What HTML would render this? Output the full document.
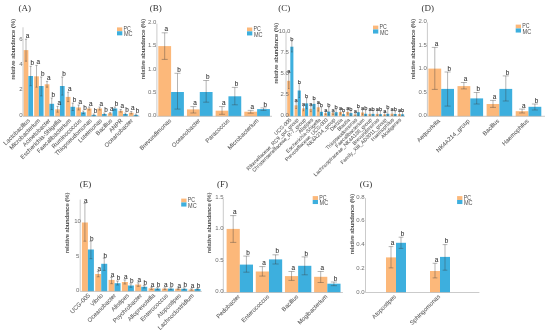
<!DOCTYPE html>
<html><head><meta charset="utf-8"><style>
html,body{margin:0;padding:0;background:#fff;overflow:hidden;}
svg{display:block;will-change:transform;}
</style></head><body>
<svg width="550" height="332" viewBox="0 0 550 332" font-family="Liberation Sans, sans-serif">
<rect width="550" height="332" fill="#fff"/>
<text x="18.4" y="11.0" font-family="Liberation Serif, serif" font-size="9.0" fill="#333">(A)</text>
<text transform="translate(15.0,49.2) rotate(-90)" text-anchor="middle" font-size="5.9" fill="#3c3c3c" stroke="#3c3c3c" stroke-width="0.08">relative abundance (%)</text>
<rect x="23.65" y="50.10" width="4.70" height="66.20" fill="#FCB87A"/>
<rect x="28.35" y="76.00" width="4.70" height="40.30" fill="#3DAFDE"/>
<rect x="34.17" y="76.30" width="4.70" height="40.00" fill="#FCB87A"/>
<rect x="38.88" y="86.00" width="4.70" height="30.30" fill="#3DAFDE"/>
<rect x="44.70" y="84.30" width="4.70" height="32.00" fill="#FCB87A"/>
<rect x="49.40" y="103.80" width="4.70" height="12.50" fill="#3DAFDE"/>
<rect x="55.23" y="109.30" width="4.70" height="7.00" fill="#FCB87A"/>
<rect x="59.93" y="86.00" width="4.70" height="30.30" fill="#3DAFDE"/>
<rect x="65.75" y="96.90" width="4.70" height="19.40" fill="#FCB87A"/>
<rect x="70.45" y="106.80" width="4.70" height="9.50" fill="#3DAFDE"/>
<rect x="76.28" y="107.50" width="4.70" height="8.80" fill="#FCB87A"/>
<rect x="80.98" y="112.30" width="4.70" height="4.00" fill="#3DAFDE"/>
<rect x="86.80" y="108.50" width="4.70" height="7.80" fill="#FCB87A"/>
<rect x="91.50" y="114.90" width="4.70" height="1.40" fill="#3DAFDE"/>
<rect x="97.32" y="108.50" width="4.70" height="7.80" fill="#FCB87A"/>
<rect x="102.02" y="114.00" width="4.70" height="2.30" fill="#3DAFDE"/>
<rect x="107.85" y="113.30" width="4.70" height="3.00" fill="#FCB87A"/>
<rect x="112.55" y="108.50" width="4.70" height="7.80" fill="#3DAFDE"/>
<rect x="118.38" y="110.80" width="4.70" height="5.50" fill="#FCB87A"/>
<rect x="123.08" y="114.00" width="4.70" height="2.30" fill="#3DAFDE"/>
<rect x="128.90" y="112.70" width="4.70" height="3.60" fill="#FCB87A"/>
<rect x="133.60" y="114.90" width="4.70" height="1.40" fill="#3DAFDE"/>
<path d="M26.00 39.20V61.20M24.90 39.20H27.10M24.90 61.20H27.10" stroke="#3A3A3A" stroke-width="0.75" fill="none" opacity="0.5"/>
<text x="27.65" y="37.80" text-anchor="middle" font-size="6.4" fill="#333333" stroke="#333333" stroke-width="0.08">a</text>
<path d="M30.70 66.30V85.70M29.60 66.30H31.80M29.60 85.70H31.80" stroke="#3A3A3A" stroke-width="0.75" fill="none" opacity="0.5"/>
<text x="32.35" y="64.90" text-anchor="middle" font-size="6.4" fill="#333333" stroke="#333333" stroke-width="0.08">b</text>
<path d="M36.52 65.40V87.20M35.42 65.40H37.63M35.42 87.20H37.63" stroke="#3A3A3A" stroke-width="0.75" fill="none" opacity="0.5"/>
<text x="38.17" y="64.00" text-anchor="middle" font-size="6.4" fill="#333333" stroke="#333333" stroke-width="0.08">a</text>
<path d="M41.23 77.00V95.90M40.12 77.00H42.33M40.12 95.90H42.33" stroke="#3A3A3A" stroke-width="0.75" fill="none" opacity="0.5"/>
<text x="42.88" y="75.60" text-anchor="middle" font-size="6.4" fill="#333333" stroke="#333333" stroke-width="0.08">b</text>
<path d="M47.05 81.40V87.20M45.95 81.40H48.15M45.95 87.20H48.15" stroke="#3A3A3A" stroke-width="0.75" fill="none" opacity="0.5"/>
<text x="48.70" y="80.00" text-anchor="middle" font-size="6.4" fill="#333333" stroke="#333333" stroke-width="0.08">a</text>
<path d="M51.75 98.00V109.60M50.65 98.00H52.85M50.65 109.60H52.85" stroke="#3A3A3A" stroke-width="0.75" fill="none" opacity="0.5"/>
<text x="53.40" y="96.60" text-anchor="middle" font-size="6.4" fill="#333333" stroke="#333333" stroke-width="0.08">b</text>
<path d="M57.58 106.40V112.20M56.47 106.40H58.68M56.47 112.20H58.68" stroke="#3A3A3A" stroke-width="0.75" fill="none" opacity="0.5"/>
<text x="59.23" y="105.00" text-anchor="middle" font-size="6.4" fill="#333333" stroke="#333333" stroke-width="0.08">a</text>
<path d="M62.28 77.00V95.10M61.17 77.00H63.38M61.17 95.10H63.38" stroke="#3A3A3A" stroke-width="0.75" fill="none" opacity="0.5"/>
<text x="63.93" y="75.60" text-anchor="middle" font-size="6.4" fill="#333333" stroke="#333333" stroke-width="0.08">b</text>
<path d="M68.10 92.20V101.60M67.00 92.20H69.20M67.00 101.60H69.20" stroke="#3A3A3A" stroke-width="0.75" fill="none" opacity="0.5"/>
<text x="69.75" y="90.80" text-anchor="middle" font-size="6.4" fill="#333333" stroke="#333333" stroke-width="0.08">a</text>
<path d="M72.80 103.10V110.50M71.70 103.10H73.90M71.70 110.50H73.90" stroke="#3A3A3A" stroke-width="0.75" fill="none" opacity="0.5"/>
<text x="74.45" y="101.70" text-anchor="middle" font-size="6.4" fill="#333333" stroke="#333333" stroke-width="0.08">b</text>
<path d="M78.62 105.00V110.00M77.52 105.00H79.73M77.52 110.00H79.73" stroke="#3A3A3A" stroke-width="0.75" fill="none" opacity="0.5"/>
<text x="80.28" y="103.60" text-anchor="middle" font-size="6.4" fill="#333333" stroke="#333333" stroke-width="0.08">a</text>
<path d="M83.33 111.00V113.60M82.22 111.00H84.43M82.22 113.60H84.43" stroke="#3A3A3A" stroke-width="0.75" fill="none" opacity="0.5"/>
<text x="84.98" y="109.60" text-anchor="middle" font-size="6.4" fill="#333333" stroke="#333333" stroke-width="0.08">b</text>
<path d="M89.15 107.00V110.00M88.05 107.00H90.25M88.05 110.00H90.25" stroke="#3A3A3A" stroke-width="0.75" fill="none" opacity="0.5"/>
<text x="90.80" y="105.60" text-anchor="middle" font-size="6.4" fill="#333333" stroke="#333333" stroke-width="0.08">a</text>
<path d="M93.85 114.00V115.80M92.75 114.00H94.95M92.75 115.80H94.95" stroke="#3A3A3A" stroke-width="0.75" fill="none" opacity="0.5"/>
<text x="95.50" y="112.60" text-anchor="middle" font-size="6.4" fill="#333333" stroke="#333333" stroke-width="0.08">b</text>
<path d="M99.67 107.00V110.00M98.57 107.00H100.78M98.57 110.00H100.78" stroke="#3A3A3A" stroke-width="0.75" fill="none" opacity="0.5"/>
<text x="101.32" y="105.60" text-anchor="middle" font-size="6.4" fill="#333333" stroke="#333333" stroke-width="0.08">a</text>
<path d="M104.37 113.00V115.00M103.27 113.00H105.48M103.27 115.00H105.48" stroke="#3A3A3A" stroke-width="0.75" fill="none" opacity="0.5"/>
<text x="106.02" y="111.60" text-anchor="middle" font-size="6.4" fill="#333333" stroke="#333333" stroke-width="0.08">b</text>
<path d="M110.20 112.50V114.10M109.10 112.50H111.30M109.10 114.10H111.30" stroke="#3A3A3A" stroke-width="0.75" fill="none" opacity="0.5"/>
<text x="111.85" y="111.10" text-anchor="middle" font-size="6.4" fill="#333333" stroke="#333333" stroke-width="0.08">a</text>
<path d="M114.90 107.00V110.00M113.80 107.00H116.00M113.80 110.00H116.00" stroke="#3A3A3A" stroke-width="0.75" fill="none" opacity="0.5"/>
<text x="116.55" y="105.60" text-anchor="middle" font-size="6.4" fill="#333333" stroke="#333333" stroke-width="0.08">b</text>
<path d="M120.72 109.50V112.10M119.62 109.50H121.83M119.62 112.10H121.83" stroke="#3A3A3A" stroke-width="0.75" fill="none" opacity="0.5"/>
<text x="122.38" y="108.10" text-anchor="middle" font-size="6.4" fill="#333333" stroke="#333333" stroke-width="0.08">a</text>
<path d="M125.42 113.00V115.00M124.32 113.00H126.53M124.32 115.00H126.53" stroke="#3A3A3A" stroke-width="0.75" fill="none" opacity="0.5"/>
<text x="127.08" y="111.60" text-anchor="middle" font-size="6.4" fill="#333333" stroke="#333333" stroke-width="0.08">b</text>
<path d="M131.25 111.50V113.90M130.15 111.50H132.35M130.15 113.90H132.35" stroke="#3A3A3A" stroke-width="0.75" fill="none" opacity="0.5"/>
<text x="132.90" y="110.10" text-anchor="middle" font-size="6.4" fill="#333333" stroke="#333333" stroke-width="0.08">a</text>
<path d="M135.95 114.00V115.80M134.85 114.00H137.05M134.85 115.80H137.05" stroke="#3A3A3A" stroke-width="0.75" fill="none" opacity="0.5"/>
<text x="137.60" y="112.60" text-anchor="middle" font-size="6.4" fill="#333333" stroke="#333333" stroke-width="0.08">b</text>
<path d="M23.0 27.3V116.3H139.5" stroke="#B4B4B4" stroke-width="0.7" fill="none"/>
<text x="20.9" y="116.66" text-anchor="middle" font-size="6.0" fill="#6E6E6E">0</text>
<text x="20.9" y="91.36" text-anchor="middle" font-size="6.0" fill="#6E6E6E">2</text>
<text x="20.9" y="66.06" text-anchor="middle" font-size="6.0" fill="#6E6E6E">4</text>
<text x="20.9" y="40.86" text-anchor="middle" font-size="6.0" fill="#6E6E6E">6</text>
<text transform="translate(30.35,121.00) rotate(-45)" text-anchor="end" font-size="6.0" fill="#5c5c5c" stroke="#5c5c5c" stroke-width="0.06">Lactobacillus</text>
<text transform="translate(40.65,121.00) rotate(-45)" text-anchor="end" font-size="6.0" fill="#5c5c5c" stroke="#5c5c5c" stroke-width="0.06">Microbacterium</text>
<text transform="translate(50.95,121.00) rotate(-45)" text-anchor="end" font-size="6.0" fill="#5c5c5c" stroke="#5c5c5c" stroke-width="0.06">Acinetobacter</text>
<text transform="translate(61.25,121.00) rotate(-45)" text-anchor="end" font-size="6.0" fill="#5c5c5c" stroke="#5c5c5c" stroke-width="0.06">Escherichia-Shigella</text>
<text transform="translate(71.55,121.00) rotate(-45)" text-anchor="end" font-size="6.0" fill="#5c5c5c" stroke="#5c5c5c" stroke-width="0.06">Faecalibacterium</text>
<text transform="translate(81.85,121.00) rotate(-45)" text-anchor="end" font-size="6.0" fill="#5c5c5c" stroke="#5c5c5c" stroke-width="0.06">Ruminococcus</text>
<text transform="translate(92.15,121.00) rotate(-45)" text-anchor="end" font-size="6.0" fill="#5c5c5c" stroke="#5c5c5c" stroke-width="0.06">Thiopseudomonas</text>
<text transform="translate(102.45,121.00) rotate(-45)" text-anchor="end" font-size="6.0" fill="#5c5c5c" stroke="#5c5c5c" stroke-width="0.06">Luteimonas</text>
<text transform="translate(112.75,121.00) rotate(-45)" text-anchor="end" font-size="6.0" fill="#5c5c5c" stroke="#5c5c5c" stroke-width="0.06">Bacillus</text>
<text transform="translate(123.05,121.00) rotate(-45)" text-anchor="end" font-size="6.0" fill="#5c5c5c" stroke="#5c5c5c" stroke-width="0.06">ANPR</text>
<text transform="translate(133.35,121.00) rotate(-45)" text-anchor="end" font-size="6.0" fill="#5c5c5c" stroke="#5c5c5c" stroke-width="0.06">Oceanobacter</text>
<rect x="117" y="27.40" width="5.3" height="3.85" fill="#FCB87A"/>
<rect x="117" y="31.25" width="5.3" height="4.1" fill="#3DAFDE"/>
<text x="123.60" y="31.20" font-size="6.4" fill="#4a4a4a" textLength="7.3" lengthAdjust="spacingAndGlyphs">PC</text>
<text x="123.90" y="36.40" font-size="6.4" fill="#4a4a4a" textLength="8.6" lengthAdjust="spacingAndGlyphs">MC</text>
<text x="149.8" y="11.0" font-family="Liberation Serif, serif" font-size="9.0" fill="#333">(B)</text>
<text transform="translate(144.8,49.0) rotate(-90)" text-anchor="middle" font-size="5.9" fill="#3c3c3c" stroke="#3c3c3c" stroke-width="0.08">relative abundance (%)</text>
<rect x="158.30" y="46.10" width="12.80" height="70.20" fill="#FCB87A"/>
<rect x="171.10" y="92.00" width="12.80" height="24.30" fill="#3DAFDE"/>
<rect x="186.97" y="109.40" width="12.80" height="6.90" fill="#FCB87A"/>
<rect x="199.77" y="92.00" width="12.80" height="24.30" fill="#3DAFDE"/>
<rect x="215.64" y="110.70" width="12.80" height="5.60" fill="#FCB87A"/>
<rect x="228.44" y="96.30" width="12.80" height="20.00" fill="#3DAFDE"/>
<rect x="244.31" y="111.70" width="12.80" height="4.60" fill="#FCB87A"/>
<rect x="257.11" y="109.10" width="12.80" height="7.20" fill="#3DAFDE"/>
<path d="M164.70 32.80V59.40M161.69 32.80H167.71M161.69 59.40H167.71" stroke="#3A3A3A" stroke-width="0.75" fill="none" opacity="0.5"/>
<text x="166.35" y="31.40" text-anchor="middle" font-size="6.4" fill="#333333" stroke="#333333" stroke-width="0.08">a</text>
<path d="M177.50 73.30V109.10M174.49 73.30H180.51M174.49 109.10H180.51" stroke="#3A3A3A" stroke-width="0.75" fill="none" opacity="0.5"/>
<text x="179.15" y="71.90" text-anchor="middle" font-size="6.4" fill="#333333" stroke="#333333" stroke-width="0.08">b</text>
<path d="M193.37 106.60V113.00M190.36 106.60H196.38M190.36 113.00H196.38" stroke="#3A3A3A" stroke-width="0.75" fill="none" opacity="0.5"/>
<text x="195.02" y="105.20" text-anchor="middle" font-size="6.4" fill="#333333" stroke="#333333" stroke-width="0.08">a</text>
<path d="M206.17 80.50V102.20M203.16 80.50H209.18M203.16 102.20H209.18" stroke="#3A3A3A" stroke-width="0.75" fill="none" opacity="0.5"/>
<text x="207.82" y="79.10" text-anchor="middle" font-size="6.4" fill="#333333" stroke="#333333" stroke-width="0.08">b</text>
<path d="M222.04 106.60V114.30M219.03 106.60H225.05M219.03 114.30H225.05" stroke="#3A3A3A" stroke-width="0.75" fill="none" opacity="0.5"/>
<text x="223.69" y="105.20" text-anchor="middle" font-size="6.4" fill="#333333" stroke="#333333" stroke-width="0.08">a</text>
<path d="M234.84 87.40V104.80M231.83 87.40H237.85M231.83 104.80H237.85" stroke="#3A3A3A" stroke-width="0.75" fill="none" opacity="0.5"/>
<text x="236.49" y="86.00" text-anchor="middle" font-size="6.4" fill="#333333" stroke="#333333" stroke-width="0.08">b</text>
<path d="M250.71 110.40V113.20M247.70 110.40H253.72M247.70 113.20H253.72" stroke="#3A3A3A" stroke-width="0.75" fill="none" opacity="0.5"/>
<text x="252.36" y="109.00" text-anchor="middle" font-size="6.4" fill="#333333" stroke="#333333" stroke-width="0.08">a</text>
<path d="M263.51 107.90V110.40M260.50 107.90H266.52M260.50 110.40H266.52" stroke="#3A3A3A" stroke-width="0.75" fill="none" opacity="0.5"/>
<text x="265.16" y="106.50" text-anchor="middle" font-size="6.4" fill="#333333" stroke="#333333" stroke-width="0.08">b</text>
<path d="M156.9 23.6V116.3H272" stroke="#B4B4B4" stroke-width="0.7" fill="none"/>
<text x="152.1" y="23.96" text-anchor="middle" font-size="6.0" fill="#6E6E6E">2.0</text>
<text x="152.1" y="47.46" text-anchor="middle" font-size="6.0" fill="#6E6E6E">1.5</text>
<text x="152.1" y="70.56" text-anchor="middle" font-size="6.0" fill="#6E6E6E">1.0</text>
<text x="152.1" y="94.16" text-anchor="middle" font-size="6.0" fill="#6E6E6E">0.5</text>
<text x="152.1" y="117.16" text-anchor="middle" font-size="6.0" fill="#6E6E6E">0.0</text>
<text transform="translate(171.60,121.00) rotate(-45)" text-anchor="end" font-size="6.0" fill="#5c5c5c" stroke="#5c5c5c" stroke-width="0.06">Brevundimonas</text>
<text transform="translate(200.75,121.00) rotate(-45)" text-anchor="end" font-size="6.0" fill="#5c5c5c" stroke="#5c5c5c" stroke-width="0.06">Oceanobacter</text>
<text transform="translate(229.90,121.00) rotate(-45)" text-anchor="end" font-size="6.0" fill="#5c5c5c" stroke="#5c5c5c" stroke-width="0.06">Paracoccus</text>
<text transform="translate(259.05,121.00) rotate(-45)" text-anchor="end" font-size="6.0" fill="#5c5c5c" stroke="#5c5c5c" stroke-width="0.06">Microbacterium</text>
<rect x="247" y="27.50" width="5.3" height="3.85" fill="#FCB87A"/>
<rect x="247" y="31.35" width="5.3" height="4.1" fill="#3DAFDE"/>
<text x="253.60" y="31.30" font-size="6.4" fill="#4a4a4a" textLength="7.3" lengthAdjust="spacingAndGlyphs">PC</text>
<text x="253.90" y="36.50" font-size="6.4" fill="#4a4a4a" textLength="8.6" lengthAdjust="spacingAndGlyphs">MC</text>
<text x="278.2" y="11.0" font-family="Liberation Serif, serif" font-size="9.0" fill="#333">(C)</text>
<text transform="translate(277.5,53.2) rotate(-90)" text-anchor="middle" font-size="5.9" fill="#3c3c3c" stroke="#3c3c3c" stroke-width="0.08">relative abundance (%)</text>
<rect x="287.20" y="80.80" width="3.10" height="35.50" fill="#FCB87A"/>
<rect x="290.30" y="46.70" width="3.10" height="69.60" fill="#3DAFDE"/>
<rect x="294.58" y="105.30" width="3.10" height="11.00" fill="#FCB87A"/>
<rect x="297.68" y="90.50" width="3.10" height="25.80" fill="#3DAFDE"/>
<rect x="301.96" y="108.40" width="3.10" height="7.90" fill="#FCB87A"/>
<rect x="305.06" y="103.40" width="3.10" height="12.90" fill="#3DAFDE"/>
<rect x="309.34" y="108.80" width="3.10" height="7.50" fill="#FCB87A"/>
<rect x="312.44" y="103.90" width="3.10" height="12.40" fill="#3DAFDE"/>
<rect x="316.72" y="107.30" width="3.10" height="9.00" fill="#FCB87A"/>
<rect x="319.82" y="111.80" width="3.10" height="4.50" fill="#3DAFDE"/>
<rect x="324.10" y="113.10" width="3.10" height="3.20" fill="#FCB87A"/>
<rect x="327.20" y="111.60" width="3.10" height="4.70" fill="#3DAFDE"/>
<rect x="331.48" y="112.60" width="3.10" height="3.70" fill="#FCB87A"/>
<rect x="334.58" y="112.20" width="3.10" height="4.10" fill="#3DAFDE"/>
<rect x="338.86" y="111.90" width="3.10" height="4.40" fill="#FCB87A"/>
<rect x="341.96" y="114.20" width="3.10" height="2.10" fill="#3DAFDE"/>
<rect x="346.24" y="111.90" width="3.10" height="4.40" fill="#FCB87A"/>
<rect x="349.34" y="113.10" width="3.10" height="3.20" fill="#3DAFDE"/>
<rect x="353.62" y="114.40" width="3.10" height="1.90" fill="#FCB87A"/>
<rect x="356.72" y="112.20" width="3.10" height="4.10" fill="#3DAFDE"/>
<rect x="361.00" y="112.50" width="3.10" height="3.80" fill="#FCB87A"/>
<rect x="364.10" y="113.80" width="3.10" height="2.50" fill="#3DAFDE"/>
<rect x="368.38" y="113.90" width="3.10" height="2.40" fill="#FCB87A"/>
<rect x="371.48" y="113.90" width="3.10" height="2.40" fill="#3DAFDE"/>
<rect x="375.76" y="113.90" width="3.10" height="2.40" fill="#FCB87A"/>
<rect x="378.86" y="114.20" width="3.10" height="2.10" fill="#3DAFDE"/>
<rect x="383.14" y="114.30" width="3.10" height="2.00" fill="#FCB87A"/>
<rect x="386.24" y="113.80" width="3.10" height="2.50" fill="#3DAFDE"/>
<rect x="390.52" y="113.70" width="3.10" height="2.60" fill="#FCB87A"/>
<rect x="393.62" y="114.00" width="3.10" height="2.30" fill="#3DAFDE"/>
<rect x="397.90" y="114.00" width="3.10" height="2.30" fill="#FCB87A"/>
<rect x="401.00" y="114.30" width="3.10" height="2.00" fill="#3DAFDE"/>
<path d="M288.75 73.00V88.60M288.02 73.00H289.48M288.02 88.60H289.48" stroke="#3A3A3A" stroke-width="0.75" fill="none" opacity="0.5"/>
<text x="288.85" y="73.00" text-anchor="middle" font-size="5.8" fill="#333333" stroke="#333333" stroke-width="0.1">a</text>
<path d="M291.85 41.00V52.00M291.12 41.00H292.58M291.12 52.00H292.58" stroke="#3A3A3A" stroke-width="0.75" fill="none" opacity="0.5"/>
<text x="291.95" y="41.00" text-anchor="middle" font-size="5.8" fill="#333333" stroke="#333333" stroke-width="0.1">b</text>
<path d="M296.13 102.00V108.50M295.40 102.00H296.86M295.40 108.50H296.86" stroke="#3A3A3A" stroke-width="0.75" fill="none" opacity="0.5"/>
<text x="296.23" y="102.00" text-anchor="middle" font-size="5.8" fill="#333333" stroke="#333333" stroke-width="0.1">a</text>
<path d="M299.23 83.50V97.50M298.50 83.50H299.96M298.50 97.50H299.96" stroke="#3A3A3A" stroke-width="0.75" fill="none" opacity="0.5"/>
<text x="299.33" y="83.50" text-anchor="middle" font-size="5.8" fill="#333333" stroke="#333333" stroke-width="0.1">b</text>
<path d="M303.51 106.00V110.80M302.78 106.00H304.24M302.78 110.80H304.24" stroke="#3A3A3A" stroke-width="0.75" fill="none" opacity="0.5"/>
<text x="303.61" y="106.00" text-anchor="middle" font-size="5.8" fill="#333333" stroke="#333333" stroke-width="0.1">a</text>
<path d="M306.61 98.00V108.80M305.88 98.00H307.34M305.88 108.80H307.34" stroke="#3A3A3A" stroke-width="0.75" fill="none" opacity="0.5"/>
<text x="306.71" y="98.00" text-anchor="middle" font-size="5.8" fill="#333333" stroke="#333333" stroke-width="0.1">b</text>
<path d="M310.89 106.00V111.60M310.16 106.00H311.62M310.16 111.60H311.62" stroke="#3A3A3A" stroke-width="0.75" fill="none" opacity="0.5"/>
<text x="310.99" y="106.00" text-anchor="middle" font-size="5.8" fill="#333333" stroke="#333333" stroke-width="0.1">a</text>
<path d="M313.99 99.50V108.30M313.26 99.50H314.72M313.26 108.30H314.72" stroke="#3A3A3A" stroke-width="0.75" fill="none" opacity="0.5"/>
<text x="314.09" y="99.50" text-anchor="middle" font-size="5.8" fill="#333333" stroke="#333333" stroke-width="0.1">b</text>
<path d="M318.27 103.50V111.10M317.54 103.50H319.00M317.54 111.10H319.00" stroke="#3A3A3A" stroke-width="0.75" fill="none" opacity="0.5"/>
<text x="318.37" y="103.50" text-anchor="middle" font-size="5.8" fill="#333333" stroke="#333333" stroke-width="0.1">a</text>
<path d="M321.37 107.30V115.00M320.64 107.30H322.10M320.64 115.00H322.10" stroke="#3A3A3A" stroke-width="0.75" fill="none" opacity="0.5"/>
<text x="321.47" y="107.30" text-anchor="middle" font-size="5.8" fill="#333333" stroke="#333333" stroke-width="0.1">b</text>
<path d="M325.65 111.50V114.70M324.92 111.50H326.38M324.92 114.70H326.38" stroke="#3A3A3A" stroke-width="0.75" fill="none" opacity="0.5"/>
<text x="325.75" y="111.50" text-anchor="middle" font-size="5.8" fill="#333333" stroke="#333333" stroke-width="0.1">a</text>
<path d="M328.75 107.30V115.00M328.02 107.30H329.48M328.02 115.00H329.48" stroke="#3A3A3A" stroke-width="0.75" fill="none" opacity="0.5"/>
<text x="328.85" y="107.30" text-anchor="middle" font-size="5.8" fill="#333333" stroke="#333333" stroke-width="0.1">b</text>
<path d="M333.03 112.30V114.50M332.30 112.30H333.76M332.30 114.50H333.76" stroke="#3A3A3A" stroke-width="0.75" fill="none" opacity="0.5"/>
<text x="333.13" y="112.30" text-anchor="middle" font-size="5.8" fill="#333333" stroke="#333333" stroke-width="0.1">a</text>
<path d="M336.13 109.00V115.00M335.40 109.00H336.86M335.40 115.00H336.86" stroke="#3A3A3A" stroke-width="0.75" fill="none" opacity="0.5"/>
<text x="336.23" y="109.00" text-anchor="middle" font-size="5.8" fill="#333333" stroke="#333333" stroke-width="0.1">b</text>
<path d="M340.41 109.60V114.20M339.68 109.60H341.14M339.68 114.20H341.14" stroke="#3A3A3A" stroke-width="0.75" fill="none" opacity="0.5"/>
<text x="340.51" y="109.60" text-anchor="middle" font-size="5.8" fill="#333333" stroke="#333333" stroke-width="0.1">a</text>
<path d="M343.51 112.00V115.50M342.78 112.00H344.24M342.78 115.50H344.24" stroke="#3A3A3A" stroke-width="0.75" fill="none" opacity="0.5"/>
<text x="343.61" y="112.00" text-anchor="middle" font-size="5.8" fill="#333333" stroke="#333333" stroke-width="0.1">b</text>
<path d="M347.79 109.60V114.20M347.06 109.60H348.52M347.06 114.20H348.52" stroke="#3A3A3A" stroke-width="0.75" fill="none" opacity="0.5"/>
<text x="347.89" y="109.60" text-anchor="middle" font-size="5.8" fill="#333333" stroke="#333333" stroke-width="0.1">a</text>
<path d="M350.89 110.50V115.50M350.16 110.50H351.62M350.16 115.50H351.62" stroke="#3A3A3A" stroke-width="0.75" fill="none" opacity="0.5"/>
<text x="350.99" y="110.50" text-anchor="middle" font-size="5.8" fill="#333333" stroke="#333333" stroke-width="0.1">b</text>
<path d="M355.17 113.00V115.50M354.44 113.00H355.90M354.44 115.50H355.90" stroke="#3A3A3A" stroke-width="0.75" fill="none" opacity="0.5"/>
<text x="355.27" y="113.00" text-anchor="middle" font-size="5.8" fill="#333333" stroke="#333333" stroke-width="0.1">a</text>
<path d="M358.27 107.50V115.50M357.54 107.50H359.00M357.54 115.50H359.00" stroke="#3A3A3A" stroke-width="0.75" fill="none" opacity="0.5"/>
<text x="358.37" y="107.50" text-anchor="middle" font-size="5.8" fill="#333333" stroke="#333333" stroke-width="0.1">b</text>
<path d="M362.55 109.80V115.00M361.82 109.80H363.28M361.82 115.00H363.28" stroke="#3A3A3A" stroke-width="0.75" fill="none" opacity="0.5"/>
<text x="362.65" y="109.80" text-anchor="middle" font-size="5.8" fill="#333333" stroke="#333333" stroke-width="0.1">a</text>
<path d="M365.65 110.00V115.50M364.92 110.00H366.38M364.92 115.50H366.38" stroke="#3A3A3A" stroke-width="0.75" fill="none" opacity="0.5"/>
<text x="365.75" y="110.00" text-anchor="middle" font-size="5.8" fill="#333333" stroke="#333333" stroke-width="0.1">b</text>
<path d="M369.93 110.50V115.50M369.20 110.50H370.66M369.20 115.50H370.66" stroke="#3A3A3A" stroke-width="0.75" fill="none" opacity="0.5"/>
<text x="370.03" y="110.50" text-anchor="middle" font-size="5.8" fill="#333333" stroke="#333333" stroke-width="0.1">a</text>
<path d="M373.03 110.50V115.50M372.30 110.50H373.76M372.30 115.50H373.76" stroke="#3A3A3A" stroke-width="0.75" fill="none" opacity="0.5"/>
<text x="373.13" y="110.50" text-anchor="middle" font-size="5.8" fill="#333333" stroke="#333333" stroke-width="0.1">b</text>
<path d="M377.31 110.50V115.50M376.58 110.50H378.04M376.58 115.50H378.04" stroke="#3A3A3A" stroke-width="0.75" fill="none" opacity="0.5"/>
<text x="377.41" y="110.50" text-anchor="middle" font-size="5.8" fill="#333333" stroke="#333333" stroke-width="0.1">a</text>
<path d="M380.41 111.00V115.50M379.68 111.00H381.14M379.68 115.50H381.14" stroke="#3A3A3A" stroke-width="0.75" fill="none" opacity="0.5"/>
<text x="380.51" y="111.00" text-anchor="middle" font-size="5.8" fill="#333333" stroke="#333333" stroke-width="0.1">b</text>
<path d="M384.69 112.50V115.50M383.96 112.50H385.42M383.96 115.50H385.42" stroke="#3A3A3A" stroke-width="0.75" fill="none" opacity="0.5"/>
<text x="384.79" y="112.50" text-anchor="middle" font-size="5.8" fill="#333333" stroke="#333333" stroke-width="0.1">a</text>
<path d="M387.79 109.00V115.50M387.06 109.00H388.52M387.06 115.50H388.52" stroke="#3A3A3A" stroke-width="0.75" fill="none" opacity="0.5"/>
<text x="387.89" y="109.00" text-anchor="middle" font-size="5.8" fill="#333333" stroke="#333333" stroke-width="0.1">b</text>
<path d="M392.07 110.50V115.50M391.34 110.50H392.80M391.34 115.50H392.80" stroke="#3A3A3A" stroke-width="0.75" fill="none" opacity="0.5"/>
<text x="392.17" y="110.50" text-anchor="middle" font-size="5.8" fill="#333333" stroke="#333333" stroke-width="0.1">a</text>
<path d="M395.17 111.00V115.50M394.44 111.00H395.90M394.44 115.50H395.90" stroke="#3A3A3A" stroke-width="0.75" fill="none" opacity="0.5"/>
<text x="395.27" y="111.00" text-anchor="middle" font-size="5.8" fill="#333333" stroke="#333333" stroke-width="0.1">b</text>
<path d="M399.45 111.50V115.50M398.72 111.50H400.18M398.72 115.50H400.18" stroke="#3A3A3A" stroke-width="0.75" fill="none" opacity="0.5"/>
<text x="399.55" y="111.50" text-anchor="middle" font-size="5.8" fill="#333333" stroke="#333333" stroke-width="0.1">a</text>
<path d="M402.55 111.50V115.50M401.82 111.50H403.28M401.82 115.50H403.28" stroke="#3A3A3A" stroke-width="0.75" fill="none" opacity="0.5"/>
<text x="402.65" y="111.50" text-anchor="middle" font-size="5.8" fill="#333333" stroke="#333333" stroke-width="0.1">b</text>
<path d="M286.0 31.5V116.3H405" stroke="#B4B4B4" stroke-width="0.7" fill="none"/>
<text x="284.6" y="33.16" text-anchor="middle" font-size="6.0" fill="#6E6E6E">10.0</text>
<text x="284.6" y="54.46" text-anchor="middle" font-size="6.0" fill="#6E6E6E">7.5</text>
<text x="284.6" y="74.56" text-anchor="middle" font-size="6.0" fill="#6E6E6E">5.0</text>
<text x="284.6" y="95.66" text-anchor="middle" font-size="6.0" fill="#6E6E6E">2.5</text>
<text x="284.6" y="116.66" text-anchor="middle" font-size="6.0" fill="#6E6E6E">0.0</text>
<text transform="translate(291.70,120.20) rotate(-45)" text-anchor="end" font-size="5.15" fill="#5c5c5c" stroke="#5c5c5c" stroke-width="0.06">UCG-005</text>
<text transform="translate(299.03,120.20) rotate(-45)" text-anchor="end" font-size="5.15" fill="#5c5c5c" stroke="#5c5c5c" stroke-width="0.06">Rikenellaceae_RC9_gut_group</text>
<text transform="translate(306.36,120.20) rotate(-45)" text-anchor="end" font-size="5.15" fill="#5c5c5c" stroke="#5c5c5c" stroke-width="0.06">Christensenellaceae_R-7_group</text>
<text transform="translate(313.69,120.20) rotate(-45)" text-anchor="end" font-size="5.15" fill="#5c5c5c" stroke="#5c5c5c" stroke-width="0.06">Alistipes</text>
<text transform="translate(321.02,120.20) rotate(-45)" text-anchor="end" font-size="5.15" fill="#5c5c5c" stroke="#5c5c5c" stroke-width="0.06">Escherichia-Shigella</text>
<text transform="translate(328.35,120.20) rotate(-45)" text-anchor="end" font-size="5.15" fill="#5c5c5c" stroke="#5c5c5c" stroke-width="0.06">Prevotellaceae_UCG-003</text>
<text transform="translate(335.68,120.20) rotate(-45)" text-anchor="end" font-size="5.15" fill="#5c5c5c" stroke="#5c5c5c" stroke-width="0.06">NK4A214_group</text>
<text transform="translate(343.01,120.20) rotate(-45)" text-anchor="end" font-size="5.15" fill="#5c5c5c" stroke="#5c5c5c" stroke-width="0.06">Dietzia</text>
<text transform="translate(350.34,120.20) rotate(-45)" text-anchor="end" font-size="5.15" fill="#5c5c5c" stroke="#5c5c5c" stroke-width="0.06">Blautia</text>
<text transform="translate(357.67,120.20) rotate(-45)" text-anchor="end" font-size="5.15" fill="#5c5c5c" stroke="#5c5c5c" stroke-width="0.06">Thiopseudomonas</text>
<text transform="translate(365.00,120.20) rotate(-45)" text-anchor="end" font-size="5.15" fill="#5c5c5c" stroke="#5c5c5c" stroke-width="0.06">Faecalibacterium</text>
<text transform="translate(372.33,120.20) rotate(-45)" text-anchor="end" font-size="5.15" fill="#5c5c5c" stroke="#5c5c5c" stroke-width="0.06">Lachnospiraceae_NK4A136_group</text>
<text transform="translate(379.66,120.20) rotate(-45)" text-anchor="end" font-size="5.15" fill="#5c5c5c" stroke="#5c5c5c" stroke-width="0.06">Brevundimonas</text>
<text transform="translate(386.99,120.20) rotate(-45)" text-anchor="end" font-size="5.15" fill="#5c5c5c" stroke="#5c5c5c" stroke-width="0.06">Family_XIII_AD3011_group</text>
<text transform="translate(394.32,120.20) rotate(-45)" text-anchor="end" font-size="5.15" fill="#5c5c5c" stroke="#5c5c5c" stroke-width="0.06">Haemophilus</text>
<text transform="translate(401.65,120.20) rotate(-45)" text-anchor="end" font-size="5.15" fill="#5c5c5c" stroke="#5c5c5c" stroke-width="0.06">Alcaligenes</text>
<rect x="373" y="25.60" width="5.3" height="3.85" fill="#FCB87A"/>
<rect x="373" y="29.45" width="5.3" height="4.1" fill="#3DAFDE"/>
<text x="379.60" y="29.40" font-size="6.4" fill="#4a4a4a" textLength="7.3" lengthAdjust="spacingAndGlyphs">PC</text>
<text x="379.90" y="34.60" font-size="6.4" fill="#4a4a4a" textLength="8.6" lengthAdjust="spacingAndGlyphs">MC</text>
<text x="421.5" y="11.0" font-family="Liberation Serif, serif" font-size="9.0" fill="#333">(D)</text>
<text transform="translate(414.8,49.0) rotate(-90)" text-anchor="middle" font-size="5.9" fill="#3c3c3c" stroke="#3c3c3c" stroke-width="0.08">relative abundance (%)</text>
<rect x="428.40" y="68.60" width="12.80" height="47.70" fill="#FCB87A"/>
<rect x="441.20" y="88.90" width="12.80" height="27.40" fill="#3DAFDE"/>
<rect x="457.50" y="86.10" width="12.80" height="30.20" fill="#FCB87A"/>
<rect x="470.30" y="98.40" width="12.80" height="17.90" fill="#3DAFDE"/>
<rect x="486.60" y="104.00" width="12.80" height="12.30" fill="#FCB87A"/>
<rect x="499.40" y="88.90" width="12.80" height="27.40" fill="#3DAFDE"/>
<rect x="515.70" y="111.20" width="12.80" height="5.10" fill="#FCB87A"/>
<rect x="528.50" y="106.80" width="12.80" height="9.50" fill="#3DAFDE"/>
<path d="M434.80 47.40V89.40M431.79 47.40H437.81M431.79 89.40H437.81" stroke="#3A3A3A" stroke-width="0.75" fill="none" opacity="0.5"/>
<text x="436.45" y="46.00" text-anchor="middle" font-size="6.4" fill="#333333" stroke="#333333" stroke-width="0.08">a</text>
<path d="M447.60 72.00V106.10M444.59 72.00H450.61M444.59 106.10H450.61" stroke="#3A3A3A" stroke-width="0.75" fill="none" opacity="0.5"/>
<text x="449.25" y="70.60" text-anchor="middle" font-size="6.4" fill="#333333" stroke="#333333" stroke-width="0.08">b</text>
<path d="M463.90 82.50V88.90M460.89 82.50H466.91M460.89 88.90H466.91" stroke="#3A3A3A" stroke-width="0.75" fill="none" opacity="0.5"/>
<text x="465.55" y="81.10" text-anchor="middle" font-size="6.4" fill="#333333" stroke="#333333" stroke-width="0.08">a</text>
<path d="M476.70 92.50V104.00M473.69 92.50H479.71M473.69 104.00H479.71" stroke="#3A3A3A" stroke-width="0.75" fill="none" opacity="0.5"/>
<text x="478.35" y="91.10" text-anchor="middle" font-size="6.4" fill="#333333" stroke="#333333" stroke-width="0.08">b</text>
<path d="M493.00 100.40V107.40M489.99 100.40H496.01M489.99 107.40H496.01" stroke="#3A3A3A" stroke-width="0.75" fill="none" opacity="0.5"/>
<text x="494.65" y="99.00" text-anchor="middle" font-size="6.4" fill="#333333" stroke="#333333" stroke-width="0.08">a</text>
<path d="M505.80 75.90V101.00M502.79 75.90H508.81M502.79 101.00H508.81" stroke="#3A3A3A" stroke-width="0.75" fill="none" opacity="0.5"/>
<text x="507.45" y="74.50" text-anchor="middle" font-size="6.4" fill="#333333" stroke="#333333" stroke-width="0.08">b</text>
<path d="M522.10 109.10V113.00M519.09 109.10H525.11M519.09 113.00H525.11" stroke="#3A3A3A" stroke-width="0.75" fill="none" opacity="0.5"/>
<text x="523.75" y="107.70" text-anchor="middle" font-size="6.4" fill="#333333" stroke="#333333" stroke-width="0.08">a</text>
<path d="M534.90 104.00V110.00M531.89 104.00H537.91M531.89 110.00H537.91" stroke="#3A3A3A" stroke-width="0.75" fill="none" opacity="0.5"/>
<text x="536.55" y="102.60" text-anchor="middle" font-size="6.4" fill="#333333" stroke="#333333" stroke-width="0.08">b</text>
<path d="M427.4 22.4V116.3H545" stroke="#B4B4B4" stroke-width="0.7" fill="none"/>
<text x="422.7" y="22.96" text-anchor="middle" font-size="6.0" fill="#6E6E6E">2.0</text>
<text x="422.7" y="47.16" text-anchor="middle" font-size="6.0" fill="#6E6E6E">1.5</text>
<text x="422.7" y="70.36" text-anchor="middle" font-size="6.0" fill="#6E6E6E">1.0</text>
<text x="422.7" y="94.16" text-anchor="middle" font-size="6.0" fill="#6E6E6E">0.5</text>
<text x="422.7" y="117.16" text-anchor="middle" font-size="6.0" fill="#6E6E6E">0.0</text>
<text transform="translate(440.40,121.30) rotate(-45)" text-anchor="end" font-size="6.0" fill="#5c5c5c" stroke="#5c5c5c" stroke-width="0.06">Aequorivita</text>
<text transform="translate(470.00,121.30) rotate(-45)" text-anchor="end" font-size="6.0" fill="#5c5c5c" stroke="#5c5c5c" stroke-width="0.06">NK4A214_group</text>
<text transform="translate(499.60,121.30) rotate(-45)" text-anchor="end" font-size="6.0" fill="#5c5c5c" stroke="#5c5c5c" stroke-width="0.06">Bacillus</text>
<text transform="translate(529.20,121.30) rotate(-45)" text-anchor="end" font-size="6.0" fill="#5c5c5c" stroke="#5c5c5c" stroke-width="0.06">Haemophilus</text>
<rect x="515.7" y="24.60" width="5.3" height="3.85" fill="#FCB87A"/>
<rect x="515.7" y="28.45" width="5.3" height="4.1" fill="#3DAFDE"/>
<text x="522.30" y="28.40" font-size="6.4" fill="#4a4a4a" textLength="7.3" lengthAdjust="spacingAndGlyphs">PC</text>
<text x="522.60" y="33.60" font-size="6.4" fill="#4a4a4a" textLength="8.6" lengthAdjust="spacingAndGlyphs">MC</text>
<text x="79.8" y="187.0" font-family="Liberation Serif, serif" font-size="9.0" fill="#333">(E)</text>
<text transform="translate(69.0,222.8) rotate(-90)" text-anchor="middle" font-size="5.9" fill="#3c3c3c" stroke="#3c3c3c" stroke-width="0.08">relative abundance (%)</text>
<rect x="81.90" y="222.50" width="6.00" height="68.90" fill="#FCB87A"/>
<rect x="87.90" y="249.50" width="6.00" height="41.90" fill="#3DAFDE"/>
<rect x="95.23" y="274.00" width="6.00" height="17.40" fill="#FCB87A"/>
<rect x="101.23" y="263.80" width="6.00" height="27.60" fill="#3DAFDE"/>
<rect x="108.56" y="279.90" width="6.00" height="11.50" fill="#FCB87A"/>
<rect x="114.56" y="283.20" width="6.00" height="8.20" fill="#3DAFDE"/>
<rect x="121.89" y="282.00" width="6.00" height="9.40" fill="#FCB87A"/>
<rect x="127.89" y="285.50" width="6.00" height="5.90" fill="#3DAFDE"/>
<rect x="135.22" y="284.50" width="6.00" height="6.90" fill="#FCB87A"/>
<rect x="141.22" y="286.80" width="6.00" height="4.60" fill="#3DAFDE"/>
<rect x="148.55" y="288.30" width="6.00" height="3.10" fill="#FCB87A"/>
<rect x="154.55" y="288.60" width="6.00" height="2.80" fill="#3DAFDE"/>
<rect x="161.88" y="288.60" width="6.00" height="2.80" fill="#FCB87A"/>
<rect x="167.88" y="288.60" width="6.00" height="2.80" fill="#3DAFDE"/>
<rect x="175.21" y="288.80" width="6.00" height="2.60" fill="#FCB87A"/>
<rect x="181.21" y="288.80" width="6.00" height="2.60" fill="#3DAFDE"/>
<rect x="188.54" y="289.50" width="6.00" height="1.90" fill="#FCB87A"/>
<rect x="194.54" y="289.00" width="6.00" height="2.40" fill="#3DAFDE"/>
<path d="M84.90 203.30V241.20M83.49 203.30H86.31M83.49 241.20H86.31" stroke="#3A3A3A" stroke-width="0.75" fill="none" opacity="0.5"/>
<text x="85.90" y="202.70" text-anchor="middle" font-size="6.4" fill="#333333" stroke="#333333" stroke-width="0.08">a</text>
<path d="M90.90 241.30V258.70M89.49 241.30H92.31M89.49 258.70H92.31" stroke="#3A3A3A" stroke-width="0.75" fill="none" opacity="0.5"/>
<text x="91.90" y="240.70" text-anchor="middle" font-size="6.4" fill="#333333" stroke="#333333" stroke-width="0.08">b</text>
<path d="M98.23 271.50V276.80M96.82 271.50H99.64M96.82 276.80H99.64" stroke="#3A3A3A" stroke-width="0.75" fill="none" opacity="0.5"/>
<text x="99.23" y="270.90" text-anchor="middle" font-size="6.4" fill="#333333" stroke="#333333" stroke-width="0.08">a</text>
<path d="M104.23 258.20V270.40M102.82 258.20H105.64M102.82 270.40H105.64" stroke="#3A3A3A" stroke-width="0.75" fill="none" opacity="0.5"/>
<text x="105.23" y="257.60" text-anchor="middle" font-size="6.4" fill="#333333" stroke="#333333" stroke-width="0.08">b</text>
<path d="M111.56 277.40V283.70M110.15 277.40H112.97M110.15 283.70H112.97" stroke="#3A3A3A" stroke-width="0.75" fill="none" opacity="0.5"/>
<text x="112.56" y="276.80" text-anchor="middle" font-size="6.4" fill="#333333" stroke="#333333" stroke-width="0.08">a</text>
<path d="M117.56 281.00V285.00M116.15 281.00H118.97M116.15 285.00H118.97" stroke="#3A3A3A" stroke-width="0.75" fill="none" opacity="0.5"/>
<text x="118.56" y="280.40" text-anchor="middle" font-size="6.4" fill="#333333" stroke="#333333" stroke-width="0.08">b</text>
<path d="M124.89 279.90V284.00M123.48 279.90H126.30M123.48 284.00H126.30" stroke="#3A3A3A" stroke-width="0.75" fill="none" opacity="0.5"/>
<text x="125.89" y="279.30" text-anchor="middle" font-size="6.4" fill="#333333" stroke="#333333" stroke-width="0.08">a</text>
<path d="M130.89 283.80V287.30M129.48 283.80H132.30M129.48 287.30H132.30" stroke="#3A3A3A" stroke-width="0.75" fill="none" opacity="0.5"/>
<text x="131.89" y="283.20" text-anchor="middle" font-size="6.4" fill="#333333" stroke="#333333" stroke-width="0.08">b</text>
<path d="M138.22 282.80V286.30M136.81 282.80H139.63M136.81 286.30H139.63" stroke="#3A3A3A" stroke-width="0.75" fill="none" opacity="0.5"/>
<text x="139.22" y="282.20" text-anchor="middle" font-size="6.4" fill="#333333" stroke="#333333" stroke-width="0.08">a</text>
<path d="M144.22 285.60V288.00M142.81 285.60H145.63M142.81 288.00H145.63" stroke="#3A3A3A" stroke-width="0.75" fill="none" opacity="0.5"/>
<text x="145.22" y="285.00" text-anchor="middle" font-size="6.4" fill="#333333" stroke="#333333" stroke-width="0.08">b</text>
<path d="M151.55 287.20V289.40M150.14 287.20H152.96M150.14 289.40H152.96" stroke="#3A3A3A" stroke-width="0.75" fill="none" opacity="0.5"/>
<text x="152.55" y="286.60" text-anchor="middle" font-size="6.4" fill="#333333" stroke="#333333" stroke-width="0.08">a</text>
<path d="M157.55 287.70V289.60M156.14 287.70H158.96M156.14 289.60H158.96" stroke="#3A3A3A" stroke-width="0.75" fill="none" opacity="0.5"/>
<text x="158.55" y="287.10" text-anchor="middle" font-size="6.4" fill="#333333" stroke="#333333" stroke-width="0.08">b</text>
<path d="M164.88 287.90V289.60M163.47 287.90H166.29M163.47 289.60H166.29" stroke="#3A3A3A" stroke-width="0.75" fill="none" opacity="0.5"/>
<text x="165.88" y="287.30" text-anchor="middle" font-size="6.4" fill="#333333" stroke="#333333" stroke-width="0.08">a</text>
<path d="M170.88 287.70V289.60M169.47 287.70H172.29M169.47 289.60H172.29" stroke="#3A3A3A" stroke-width="0.75" fill="none" opacity="0.5"/>
<text x="171.88" y="287.10" text-anchor="middle" font-size="6.4" fill="#333333" stroke="#333333" stroke-width="0.08">b</text>
<path d="M178.21 288.20V289.60M176.80 288.20H179.62M176.80 289.60H179.62" stroke="#3A3A3A" stroke-width="0.75" fill="none" opacity="0.5"/>
<text x="179.21" y="287.60" text-anchor="middle" font-size="6.4" fill="#333333" stroke="#333333" stroke-width="0.08">a</text>
<path d="M184.21 287.90V289.60M182.80 287.90H185.62M182.80 289.60H185.62" stroke="#3A3A3A" stroke-width="0.75" fill="none" opacity="0.5"/>
<text x="185.21" y="287.30" text-anchor="middle" font-size="6.4" fill="#333333" stroke="#333333" stroke-width="0.08">b</text>
<path d="M191.54 288.80V290.20M190.13 288.80H192.95M190.13 290.20H192.95" stroke="#3A3A3A" stroke-width="0.75" fill="none" opacity="0.5"/>
<text x="192.54" y="288.20" text-anchor="middle" font-size="6.4" fill="#333333" stroke="#333333" stroke-width="0.08">a</text>
<path d="M197.54 288.30V289.80M196.13 288.30H198.95M196.13 289.80H198.95" stroke="#3A3A3A" stroke-width="0.75" fill="none" opacity="0.5"/>
<text x="198.54" y="287.70" text-anchor="middle" font-size="6.4" fill="#333333" stroke="#333333" stroke-width="0.08">b</text>
<path d="M80.2 199.6V291.4H201.8" stroke="#B4B4B4" stroke-width="0.7" fill="none"/>
<text x="77.6" y="223.16" text-anchor="middle" font-size="6.0" fill="#6E6E6E">10</text>
<text x="77.6" y="257.86" text-anchor="middle" font-size="6.0" fill="#6E6E6E">5</text>
<text x="77.6" y="291.66" text-anchor="middle" font-size="6.0" fill="#6E6E6E">0</text>
<text transform="translate(90.40,296.00) rotate(-45)" text-anchor="end" font-size="6.0" fill="#5c5c5c" stroke="#5c5c5c" stroke-width="0.06">UCG-005</text>
<text transform="translate(103.40,296.00) rotate(-45)" text-anchor="end" font-size="6.0" fill="#5c5c5c" stroke="#5c5c5c" stroke-width="0.06">Vibrio</text>
<text transform="translate(116.40,296.00) rotate(-45)" text-anchor="end" font-size="6.0" fill="#5c5c5c" stroke="#5c5c5c" stroke-width="0.06">Oceanobacter</text>
<text transform="translate(129.40,296.00) rotate(-45)" text-anchor="end" font-size="6.0" fill="#5c5c5c" stroke="#5c5c5c" stroke-width="0.06">Alistipes</text>
<text transform="translate(142.40,296.00) rotate(-45)" text-anchor="end" font-size="6.0" fill="#5c5c5c" stroke="#5c5c5c" stroke-width="0.06">Psychrobacter</text>
<text transform="translate(155.40,296.00) rotate(-45)" text-anchor="end" font-size="6.0" fill="#5c5c5c" stroke="#5c5c5c" stroke-width="0.06">Alloprevotella</text>
<text transform="translate(168.40,296.00) rotate(-45)" text-anchor="end" font-size="6.0" fill="#5c5c5c" stroke="#5c5c5c" stroke-width="0.06">Enterococcus</text>
<text transform="translate(181.40,296.00) rotate(-45)" text-anchor="end" font-size="6.0" fill="#5c5c5c" stroke="#5c5c5c" stroke-width="0.06">Atopostipes</text>
<text transform="translate(194.40,296.00) rotate(-45)" text-anchor="end" font-size="6.0" fill="#5c5c5c" stroke="#5c5c5c" stroke-width="0.06">Lachnoclostridium</text>
<rect x="181.2" y="198.60" width="5.3" height="3.85" fill="#FCB87A"/>
<rect x="181.2" y="202.45" width="5.3" height="4.1" fill="#3DAFDE"/>
<text x="187.80" y="202.40" font-size="6.4" fill="#4a4a4a" textLength="7.3" lengthAdjust="spacingAndGlyphs">PC</text>
<text x="188.10" y="207.60" font-size="6.4" fill="#4a4a4a" textLength="8.6" lengthAdjust="spacingAndGlyphs">MC</text>
<text x="217.0" y="187.0" font-family="Liberation Serif, serif" font-size="9.0" fill="#333">(F)</text>
<text transform="translate(211.0,222.8) rotate(-90)" text-anchor="middle" font-size="5.9" fill="#3c3c3c" stroke="#3c3c3c" stroke-width="0.08">relative abundance (%)</text>
<rect x="226.60" y="228.90" width="13.20" height="63.60" fill="#FCB87A"/>
<rect x="239.80" y="264.60" width="13.20" height="27.90" fill="#3DAFDE"/>
<rect x="255.77" y="271.50" width="13.20" height="21.00" fill="#FCB87A"/>
<rect x="268.97" y="259.40" width="13.20" height="33.10" fill="#3DAFDE"/>
<rect x="284.94" y="276.10" width="13.20" height="16.40" fill="#FCB87A"/>
<rect x="298.14" y="265.80" width="13.20" height="26.70" fill="#3DAFDE"/>
<rect x="314.11" y="276.80" width="13.20" height="15.70" fill="#FCB87A"/>
<rect x="327.31" y="283.70" width="13.20" height="8.80" fill="#3DAFDE"/>
<path d="M233.20 215.60V242.40M230.10 215.60H236.30M230.10 242.40H236.30" stroke="#3A3A3A" stroke-width="0.75" fill="none" opacity="0.5"/>
<text x="234.85" y="214.20" text-anchor="middle" font-size="6.4" fill="#333333" stroke="#333333" stroke-width="0.08">a</text>
<path d="M246.40 256.10V272.20M243.30 256.10H249.50M243.30 272.20H249.50" stroke="#3A3A3A" stroke-width="0.75" fill="none" opacity="0.5"/>
<text x="248.05" y="254.70" text-anchor="middle" font-size="6.4" fill="#333333" stroke="#333333" stroke-width="0.08">b</text>
<path d="M262.37 266.60V276.10M259.27 266.60H265.47M259.27 276.10H265.47" stroke="#3A3A3A" stroke-width="0.75" fill="none" opacity="0.5"/>
<text x="264.02" y="265.20" text-anchor="middle" font-size="6.4" fill="#333333" stroke="#333333" stroke-width="0.08">a</text>
<path d="M275.57 254.80V264.00M272.47 254.80H278.67M272.47 264.00H278.67" stroke="#3A3A3A" stroke-width="0.75" fill="none" opacity="0.5"/>
<text x="277.22" y="253.40" text-anchor="middle" font-size="6.4" fill="#333333" stroke="#333333" stroke-width="0.08">b</text>
<path d="M291.54 271.50V280.40M288.44 271.50H294.64M288.44 280.40H294.64" stroke="#3A3A3A" stroke-width="0.75" fill="none" opacity="0.5"/>
<text x="293.19" y="270.10" text-anchor="middle" font-size="6.4" fill="#333333" stroke="#333333" stroke-width="0.08">a</text>
<path d="M304.74 256.90V274.80M301.64 256.90H307.84M301.64 274.80H307.84" stroke="#3A3A3A" stroke-width="0.75" fill="none" opacity="0.5"/>
<text x="306.39" y="255.50" text-anchor="middle" font-size="6.4" fill="#333333" stroke="#333333" stroke-width="0.08">b</text>
<path d="M320.71 271.50V282.50M317.61 271.50H323.81M317.61 282.50H323.81" stroke="#3A3A3A" stroke-width="0.75" fill="none" opacity="0.5"/>
<text x="322.36" y="270.10" text-anchor="middle" font-size="6.4" fill="#333333" stroke="#333333" stroke-width="0.08">a</text>
<path d="M333.91 282.00V285.70M330.81 282.00H337.01M330.81 285.70H337.01" stroke="#3A3A3A" stroke-width="0.75" fill="none" opacity="0.5"/>
<text x="335.56" y="280.60" text-anchor="middle" font-size="6.4" fill="#333333" stroke="#333333" stroke-width="0.08">b</text>
<path d="M223.3 198.6V292.5H342.9" stroke="#B4B4B4" stroke-width="0.7" fill="none"/>
<text x="219.3" y="198.96" text-anchor="middle" font-size="6.0" fill="#6E6E6E">1.5</text>
<text x="219.3" y="229.56" text-anchor="middle" font-size="6.0" fill="#6E6E6E">1.0</text>
<text x="219.3" y="262.16" text-anchor="middle" font-size="6.0" fill="#6E6E6E">0.5</text>
<text x="219.3" y="292.76" text-anchor="middle" font-size="6.0" fill="#6E6E6E">0.0</text>
<text transform="translate(240.40,297.00) rotate(-45)" text-anchor="end" font-size="6.0" fill="#5c5c5c" stroke="#5c5c5c" stroke-width="0.06">Pedobacter</text>
<text transform="translate(269.57,297.00) rotate(-45)" text-anchor="end" font-size="6.0" fill="#5c5c5c" stroke="#5c5c5c" stroke-width="0.06">Enterococcus</text>
<text transform="translate(298.74,297.00) rotate(-45)" text-anchor="end" font-size="6.0" fill="#5c5c5c" stroke="#5c5c5c" stroke-width="0.06">Bacillus</text>
<text transform="translate(327.91,297.00) rotate(-45)" text-anchor="end" font-size="6.0" fill="#5c5c5c" stroke="#5c5c5c" stroke-width="0.06">Mogibacterium</text>
<rect x="312.7" y="196.10" width="5.3" height="3.85" fill="#FCB87A"/>
<rect x="312.7" y="199.95" width="5.3" height="4.1" fill="#3DAFDE"/>
<text x="319.30" y="199.90" font-size="6.4" fill="#4a4a4a" textLength="7.3" lengthAdjust="spacingAndGlyphs">PC</text>
<text x="319.60" y="205.10" font-size="6.4" fill="#4a4a4a" textLength="8.6" lengthAdjust="spacingAndGlyphs">MC</text>
<text x="359.8" y="187.0" font-family="Liberation Serif, serif" font-size="9.0" fill="#333">(G)</text>
<text transform="translate(353.6,224.0) rotate(-90)" text-anchor="middle" font-size="5.9" fill="#3c3c3c" stroke="#3c3c3c" stroke-width="0.08">relative abundance (%)</text>
<rect x="386.00" y="257.40" width="10.00" height="35.10" fill="#FCB87A"/>
<rect x="396.00" y="242.80" width="10.00" height="49.70" fill="#3DAFDE"/>
<rect x="430.00" y="271.00" width="10.00" height="21.50" fill="#FCB87A"/>
<rect x="440.00" y="256.90" width="10.00" height="35.60" fill="#3DAFDE"/>
<path d="M391.00 246.60V267.90M388.65 246.60H393.35M388.65 267.90H393.35" stroke="#3A3A3A" stroke-width="0.75" fill="none" opacity="0.5"/>
<text x="392.65" y="245.20" text-anchor="middle" font-size="6.4" fill="#333333" stroke="#333333" stroke-width="0.08">a</text>
<path d="M401.00 237.20V248.40M398.65 237.20H403.35M398.65 248.40H403.35" stroke="#3A3A3A" stroke-width="0.75" fill="none" opacity="0.5"/>
<text x="402.65" y="235.80" text-anchor="middle" font-size="6.4" fill="#333333" stroke="#333333" stroke-width="0.08">b</text>
<path d="M435.00 263.30V277.90M432.65 263.30H437.35M432.65 277.90H437.35" stroke="#3A3A3A" stroke-width="0.75" fill="none" opacity="0.5"/>
<text x="436.65" y="261.90" text-anchor="middle" font-size="6.4" fill="#333333" stroke="#333333" stroke-width="0.08">a</text>
<path d="M445.00 244.60V270.20M442.65 244.60H447.35M442.65 270.20H447.35" stroke="#3A3A3A" stroke-width="0.75" fill="none" opacity="0.5"/>
<text x="446.65" y="243.20" text-anchor="middle" font-size="6.4" fill="#333333" stroke="#333333" stroke-width="0.08">b</text>
<path d="M365.5 198.1V292.5H479.4" stroke="#B4B4B4" stroke-width="0.7" fill="none"/>
<text x="360.5" y="198.56" text-anchor="middle" font-size="6.0" fill="#6E6E6E">0.8</text>
<text x="360.5" y="222.06" text-anchor="middle" font-size="6.0" fill="#6E6E6E">0.6</text>
<text x="360.5" y="245.66" text-anchor="middle" font-size="6.0" fill="#6E6E6E">0.4</text>
<text x="360.5" y="269.76" text-anchor="middle" font-size="6.0" fill="#6E6E6E">0.2</text>
<text x="360.5" y="293.56" text-anchor="middle" font-size="6.0" fill="#6E6E6E">0.0</text>
<text transform="translate(396.50,297.00) rotate(-45)" text-anchor="end" font-size="6.0" fill="#5c5c5c" stroke="#5c5c5c" stroke-width="0.06">Atopostipes</text>
<text transform="translate(440.50,297.00) rotate(-45)" text-anchor="end" font-size="6.0" fill="#5c5c5c" stroke="#5c5c5c" stroke-width="0.06">Sphingomonas</text>
<rect x="457.1" y="196.10" width="5.3" height="3.85" fill="#FCB87A"/>
<rect x="457.1" y="199.95" width="5.3" height="4.1" fill="#3DAFDE"/>
<text x="463.70" y="199.90" font-size="6.4" fill="#4a4a4a" textLength="7.3" lengthAdjust="spacingAndGlyphs">PC</text>
<text x="464.00" y="205.10" font-size="6.4" fill="#4a4a4a" textLength="8.6" lengthAdjust="spacingAndGlyphs">MC</text>
</svg></body></html>
